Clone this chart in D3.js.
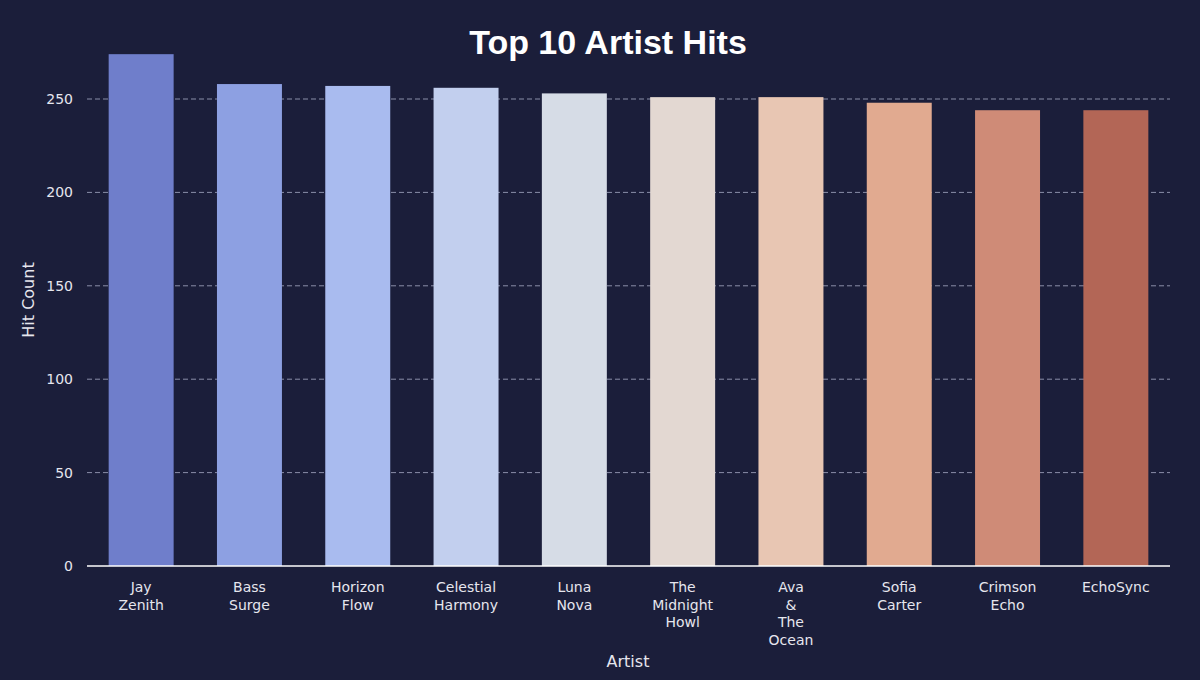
<!DOCTYPE html>
<html><head><meta charset="utf-8">
<script src="https://cdn.jsdelivr.net/npm/d3@7"></script>
<style>body{margin:0;background:#1b1e3a;}svg{display:block;font-family:"DejaVu Sans",sans-serif;}</style>
</head><body><svg id="c" width="1200" height="680"></svg>
<script>
const artists=[["Jay","Zenith"],["Bass","Surge"],["Horizon","Flow"],["Celestial","Harmony"],["Luna","Nova"],["The","Midnight","Howl"],["Ava","&","The","Ocean"],["Sofia","Carter"],["Crimson","Echo"],["EchoSync"]];
const hits=[274,258,257,256,253,251,251,248,244,244];
const colors=["#6f7ecb","#8da0e2","#a9bbef","#c2cfee","#d6dce6","#e3d8d2","#e8c6b3","#e1aa90","#cf8b77","#b36656"];
const yTicks=[0,50,100,150,200,250];
const svg=d3.select("#c");
svg.append("rect").attr("width",1200).attr("height",680).attr("fill","#1b1e3a");
const x=d3.scaleBand().domain(d3.range(artists.length)).range([87,1170]).paddingInner(0.4).paddingOuter(0.2);
const y=d3.scaleLinear().domain([0,250]).range([566,99]);
const g=svg.append("g");
g.selectAll(".grid").data(yTicks.slice(1)).join("line").attr("x1",87).attr("x2",1170)
 .attr("y1",d=>y(d)).attr("y2",d=>y(d)).attr("stroke","#8a8ea8").attr("stroke-dasharray","5,3").attr("stroke-width",1);
g.selectAll(".bar").data(hits).join("rect").attr("x",(d,i)=>x(i)).attr("width",x.bandwidth())
 .attr("y",d=>y(d)).attr("height",d=>y(0)-y(d)).attr("fill",(d,i)=>colors[i]);
const ya=svg.append("g").attr("transform","translate(87,0)").call(d3.axisLeft(y).tickValues(yTicks).tickSize(0).tickPadding(14));
ya.select(".domain").remove();
ya.selectAll("text").attr("fill","#e6e6ee").style("font-size","14px").style("font-family","DejaVu Sans");
svg.append("line").attr("x1",87).attr("x2",1170).attr("y1",y(0)).attr("y2",y(0)).attr("stroke","#ffffff").attr("stroke-width",1.5);
artists.forEach((a,i)=>{
 const t=svg.append("text").attr("x",x(i)+x.bandwidth()/2).attr("y",592).attr("text-anchor","middle").attr("fill","#e6e6ee").style("font-size","14px");
 a.forEach((w,j)=>t.append("tspan").attr("x",x(i)+x.bandwidth()/2).attr("dy",j?17.5:0).text(w));
});
svg.append("text").attr("x",628).attr("y",667).attr("text-anchor","middle").attr("fill","#e6e6ee").style("font-size","16px").text("Artist");
svg.append("text").attr("transform","translate(34,300) rotate(-90)").attr("text-anchor","middle").attr("fill","#e6e6ee").style("font-size","16px").text("Hit Count");
svg.append("text").attr("x",608).attr("y",54).attr("text-anchor","middle").attr("fill","#ffffff").style("font-size","34px").style("font-weight","900").style("font-family","'Liberation Sans',Arial,sans-serif").text("Top 10 Artist Hits");
</script></body></html>
